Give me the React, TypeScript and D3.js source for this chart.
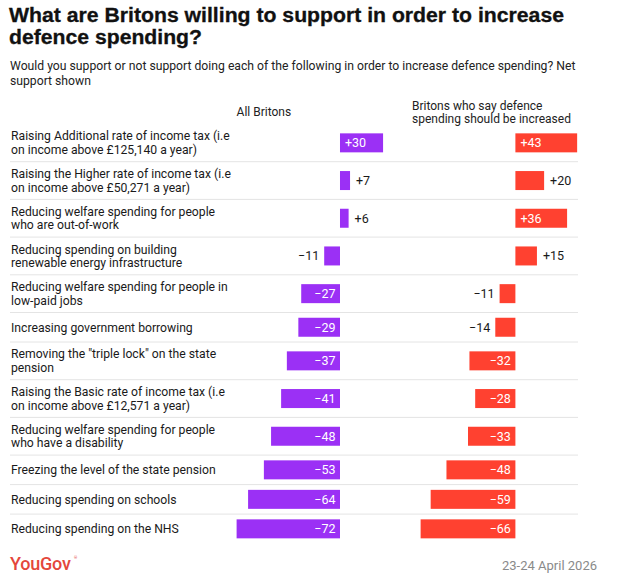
import React from "react";
import * as d3 from "d3";

const categories: string[][] = [
  ["Raising Additional rate of income tax (i.e", "on income above £125,140 a year)"],
  ["Raising the Higher rate of income tax (i.e", "on income above £50,271 a year)"],
  ["Reducing welfare spending for people", "who are out-of-work"],
  ["Reducing spending on building", "renewable energy infrastructure"],
  ["Reducing welfare spending for people in", "low-paid jobs"],
  ["Increasing government borrowing"],
  ["Removing the \"triple lock\" on the state", "pension"],
  ["Raising the Basic rate of income tax (i.e", "on income above £12,571 a year)"],
  ["Reducing welfare spending for people", "who have a disability"],
  ["Freezing the level of the state pension"],
  ["Reducing spending on schools"],
  ["Reducing spending on the NHS"],
];

const allBritons: number[] = [30, 7, 6, -11, -27, -29, -37, -41, -48, -53, -64, -72];
const supportIncrease: number[] = [43, 20, 36, 15, -11, -14, -32, -28, -33, -48, -59, -66];

const seriesNames: string[][] = [["All Britons"], ["Britons who say defence", "spending should be increased"]];

const title = ["What are Britons willing to support in order to increase", "defence spending?"];
const subtitle = [
  "Would you support or not support doing each of the following in order to increase defence spending? Net",
  "support shown",
];
const dateText = "23-24 April 2026";

const W = 634;
const H = 582;
const PURPLE = "#9b30f5";
const RED = "#ff4130";
const FONT = "Roboto, 'Liberation Sans', sans-serif";
const TITLE_FONT = "'Liberation Sans', Arial, sans-serif";

function fmt(v: number) {
  return v > 0 ? `+${v}` : v < 0 ? `\u2212${Math.abs(v)}` : "0";
}

export default function App() {
  const rowTop = 124;
  const twoH = 37.7;
  const oneH = 29.5;
  const heights = categories.map((c) => (c.length > 1 ? twoH : oneH));
  const tops: number[] = [];
  heights.reduce((acc, h) => {
    tops.push(acc);
    return acc + h;
  }, rowTop);

  const all = [...allBritons, ...supportIncrease];
  const ext = d3.extent(all) as [number, number];
  const pxPerUnit = 1.436;
  const panelW = (ext[1] - ext[0]) * pxPerUnit;
  const x1 = d3.scaleLinear().domain(ext).range([236.6, 236.6 + panelW]);
  const x2 = d3.scaleLinear().domain(ext).range([412, 412 + panelW]);
  const panels = [
    { scale: x1, values: allBritons, color: PURPLE, name: seriesNames[0] },
    { scale: x2, values: supportIncrease, color: RED, name: seriesNames[1] },
  ];
  const barH = 19;
  const threshold = 25;
  const titleWidths = [555, 193];

  return (
    <svg width={W} height={H} style={{ display: "block", position: "absolute", left: 0, top: 0, background: "#fff" }}>
      <rect x={0} y={0} width={W} height={H} fill="#fff" />
      {/* Title */}
      <g fontFamily={TITLE_FONT} fontWeight={700} fontSize={20} fill="#111" stroke="#111" strokeWidth={0.3}>
        {title.map((t, i) => (
          <text key={i} x={9} y={21.8 + i * 22.6} textLength={titleWidths[i]} lengthAdjust="spacingAndGlyphs">
            {t}
          </text>
        ))}
      </g>
      <g fontFamily={FONT} fontSize={12.2} fill="#222">
        {subtitle.map((t, i) => (
          <text key={i} x={10} y={70 + i * 15}>
            {t}
          </text>
        ))}
      </g>
      {/* Column headers */}
      <g fontFamily={FONT} fontSize={12} fill="#222">
        {panels.map((p, pi) =>
          p.name.map((n, li) => (
            <text key={`${pi}-${li}`} x={p.scale.range()[0]} y={p.name.length > 1 ? 110 + li * 12.5 : 116}>
              {n}
            </text>
          ))
        )}
      </g>
      {/* Separators */}
      <g stroke="#e4e4e4" strokeWidth={1}>
        {tops.slice(1).map((t, i) => (
          <line key={i} x1={10} x2={578} y1={t} y2={t} />
        ))}
      </g>
      {/* Rows */}
      {categories.map((lines, i) => {
        const cy = tops[i] + heights[i] / 2;
        const n = lines.length;
        return (
          <g key={i}>
            {lines.map((l, li) => (
              <text
                key={li}
                x={11}
                y={cy + 4.3 + (li - (n - 1) / 2) * 13.4}
                fontFamily={FONT}
                fontSize={12.2}
                fill="#1a1a1a"
              >
                {l}
              </text>
            ))}
            {panels.map((p, pi) => {
              const v = p.values[i];
              const x0 = p.scale(0);
              const xv = p.scale(v);
              const inside = Math.abs(v) >= threshold;
              let tx: number;
              let anchor: string;
              if (v >= 0) {
                tx = inside ? x0 + 5 : xv + 6;
                anchor = "start";
              } else {
                tx = inside ? x0 - 4.5 : xv - 5;
                anchor = "end";
              }
              return (
                <g key={pi}>
                  <rect
                    x={Math.min(x0, xv)}
                    y={cy - barH / 2}
                    width={Math.abs(xv - x0)}
                    height={barH}
                    fill={p.color}
                  />
                  <text
                    x={tx}
                    y={cy + 4.3}
                    textAnchor={anchor}
                    fontFamily={FONT}
                    fontSize={12.5}
                    fill={inside ? "#fff" : "#1a1a1a"}
                  >
                    {fmt(v)}
                  </text>
                </g>
              );
            })}
          </g>
        );
      })}
      {/* Footer */}
      <text x={10} y={570} fontFamily={FONT} fontSize={18} fontWeight={500} fill="#e4473b" letterSpacing={-0.2}>
        YouGov
      </text>
      <text x={74} y={559} fontFamily={FONT} fontSize={4} fill="#e4473b">
        ®
      </text>
      <text x={597} y={570} textAnchor="end" fontFamily={FONT} fontSize={13} fill="#8a8a8a">
        {dateText}
      </text>
    </svg>
  );
}
